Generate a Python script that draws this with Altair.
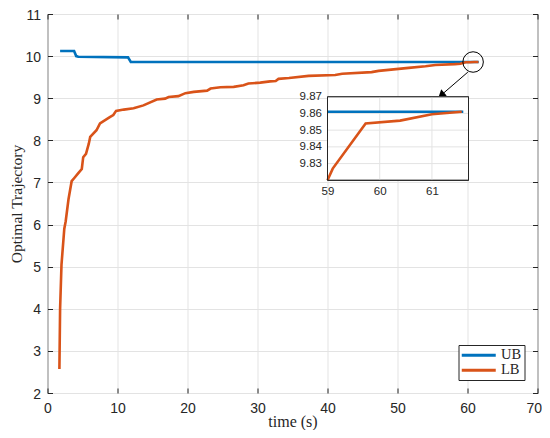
import altair as alt
import pandas as pd

# ---------------- data ----------------
ub_t = [1.8, 3.8, 4.1, 4.4, 11.5, 11.9, 61.6]
ub_v = [10.12, 10.12, 10.0, 9.985, 9.97, 9.861, 9.861]

lb_t = [1.7, 1.8, 2.0, 2.4, 2.6, 3.0, 3.45, 3.8, 4.4, 4.9, 5.1, 5.5, 5.9, 6.1,
        7.0, 7.5, 8.9, 9.4, 9.8, 10.9, 12.3, 13.7, 15.6, 16.8, 17.3, 18.7,
        19.7, 20.9, 22.8, 23.3, 24.7, 26.6, 28.0, 28.7, 30.4, 31.8, 32.6,
        33.0, 34.5, 37.3, 41.1, 42.1, 46.3, 47.3, 51.6, 54.0, 55.4, 58.2,
        59.0, 59.1, 59.73, 60.39, 61.0, 61.57]
lb_v = [2.57, 4.0, 5.05, 5.9, 6.08, 6.6, 7.03, 7.1, 7.22, 7.32, 7.6, 7.68,
        7.92, 8.08, 8.24, 8.4, 8.55, 8.6, 8.7, 8.73, 8.76, 8.83, 8.97, 8.99,
        9.03, 9.05, 9.12, 9.15, 9.18, 9.23, 9.26, 9.27, 9.31, 9.35, 9.37,
        9.4, 9.41, 9.46, 9.48, 9.53, 9.55, 9.58, 9.62, 9.65, 9.72, 9.76,
        9.79, 9.81, 9.82, 9.827, 9.854, 9.8557, 9.8595, 9.861]

inset_ub_t = [59.0, 61.6]
inset_ub_v = [9.861, 9.861]
inset_lb_t = [59.0, 59.1, 59.73, 60.39, 61.0, 61.57]
inset_lb_v = [9.820, 9.827, 9.854, 9.8557, 9.8595, 9.861]

x_ticks = [0, 10, 20, 30, 40, 50, 60, 70]
y_ticks = [2, 3, 4, 5, 6, 7, 8, 9, 10, 11]
x_domain = [0, 70]
y_domain = [2, 11]

inset_x_ticks = [59, 60, 61]
inset_y_ticks = [9.83, 9.84, 9.85, 9.86, 9.87]
inset_x_domain = [59, 61.7]
inset_y_domain = [9.82, 9.87]

series_names = ["UB", "LB"]
series_colors = ["#0072BD", "#D95319"]

# annotation: zoom circle and arrow (data coordinates)
circle_t = [60.8]
circle_v = [9.86]
arrow_t = [60.05]
arrow_v = [9.62]
arrow_t2 = [55.8]
arrow_v2 = [9.01]

# ---------------- dimensions ----------------
W, H = 490, 379
INSET_X_RANGE = [280, 421]
INSET_Y_RANGE = [166.3, 82.7]

TICK_FONT = "Liberation Sans"
TITLE_FONT = "Liberation Serif"
AX_COLOR = "#262626"
GRID_COLOR = "#e3e3e3"

ub_df = pd.DataFrame({"t": ub_t, "v": ub_v, "series": "UB"})
lb_df = pd.DataFrame({"t": lb_t, "v": lb_v, "series": "LB"})
iub_df = pd.DataFrame({"t": inset_ub_t, "v": inset_ub_v})
ilb_df = pd.DataFrame({"t": inset_lb_t, "v": inset_lb_v})

xs = alt.Scale(domain=x_domain, nice=False, zero=False)
ys = alt.Scale(domain=y_domain, nice=False, zero=False)

x_axis = alt.Axis(values=x_ticks, grid=True, gridColor=GRID_COLOR, domain=False,
                  ticks=False, tickSize=0, labelPadding=8, labelFont=TICK_FONT,
                  labelFontSize=14, labelColor=AX_COLOR, title="time (s)",
                  titleFont=TITLE_FONT, titleFontSize=16, titleFontWeight="normal",
                  titleColor=AX_COLOR, titleY=33.5, titleBaseline="alphabetic",
                  orient="bottom", labelFlush=True, labelFlushOffset=4)
y_axis = alt.Axis(values=y_ticks, grid=True, gridColor=GRID_COLOR, domain=False,
                  ticks=False, tickSize=0, labelPadding=7, labelOffset=1,
                  labelFont=TICK_FONT, labelFontSize=14, labelColor=AX_COLOR,
                  title="Optimal Trajectory", titleFont=TITLE_FONT, titleFontSize=15.5,
                  titleFontWeight="normal", titleColor=AX_COLOR, titleX=-26,
                  titleY=H / 2, titleAngle=270, titleBaseline="alphabetic",
                  orient="left", labelFlush=False)

color = alt.Color("series:N",
                  scale=alt.Scale(domain=series_names, range=series_colors),
                  legend=alt.Legend(orient="bottom-right", title=None,
                                    symbolType="M-3.4,0H3.4", symbolSize=100,
                                    symbolStrokeWidth=3, symbolOffset=10,
                                    labelOffset=15, labelFont=TITLE_FONT,
                                    labelFontSize=14.5, labelColor=AX_COLOR,
                                    strokeColor=AX_COLOR, fillColor="white",
                                    padding=3, offset=13, rowPadding=0))

ub_line = alt.Chart(ub_df).mark_line(strokeWidth=2.6).encode(
    x=alt.X("t:Q", scale=xs, axis=x_axis),
    y=alt.Y("v:Q", scale=ys, axis=y_axis),
    color=color,
)
lb_line = alt.Chart(lb_df).mark_line(strokeWidth=2.6).encode(
    x=alt.X("t:Q", scale=xs, axis=x_axis),
    y=alt.Y("v:Q", scale=ys, axis=y_axis),
    color=color,
)

circ_df = pd.DataFrame({"t": circle_t, "v": circle_v})
circle = alt.Chart(circ_df).mark_point(shape="circle", size=420, filled=False,
                                       stroke="black", strokeWidth=1, opacity=1).encode(
    x=alt.X("t:Q", scale=xs), y=alt.Y("v:Q", scale=ys))

arr_df = pd.DataFrame({"t": arrow_t, "v": arrow_v, "t2": arrow_t2, "v2": arrow_v2})
arrow = alt.Chart(arr_df).mark_rule(color="black", strokeWidth=1).encode(
    x=alt.X("t:Q", scale=xs), y=alt.Y("v:Q", scale=ys), x2="t2:Q", y2="v2:Q")
arrow_head = alt.Chart(arr_df).transform_calculate(
    ht="datum.t2 + 0.45", hv="datum.v2 + 0.07").mark_point(
    shape="triangle-up", size=70, filled=True, color="black", opacity=1,
    angle=229).encode(x=alt.X("ht:Q", scale=xs), y=alt.Y("hv:Q", scale=ys))

main_layer = alt.layer(ub_line, lb_line, circle, arrow, arrow_head)

# inward box ticks (bottom/left and top/right)
frame_df = pd.DataFrame({"x": x_domain, "y": y_domain})


def tick_axis(orient, values):
    return alt.Axis(orient=orient, offset=-5, tickSize=5, values=values, labels=False,
                    domain=False, grid=False, title=None, tickColor=AX_COLOR,
                    tickWidth=1)


ticks_bl = alt.Chart(frame_df).mark_point(opacity=0).encode(
    x=alt.X("x:Q", scale=xs, axis=tick_axis("bottom", x_ticks)),
    y=alt.Y("y:Q", scale=ys, axis=tick_axis("left", y_ticks)))
ticks_tr = alt.Chart(frame_df).mark_point(opacity=0).encode(
    x=alt.X("x:Q", scale=xs, axis=tick_axis("top", x_ticks)),
    y=alt.Y("y:Q", scale=ys, axis=tick_axis("right", y_ticks)))

# ---------------- inset ----------------
ixs = alt.Scale(domain=inset_x_domain, range=INSET_X_RANGE, nice=False, zero=False)
iys = alt.Scale(domain=inset_y_domain, range=INSET_Y_RANGE, nice=False, zero=False)

ix_axis = alt.Axis(orient="bottom", offset=-(H - INSET_Y_RANGE[0]), values=inset_x_ticks,
                   grid=False, domain=False, ticks=False, tickSize=0, labelPadding=5,
                   labelFont=TICK_FONT, labelFontSize=11.5, labelColor=AX_COLOR,
                   title=None, labelFlush=False)
iy_axis = alt.Axis(orient="left", offset=-INSET_X_RANGE[0], values=inset_y_ticks,
                   grid=False, domain=False, ticks=False, tickSize=0, labelPadding=6,
                   labelFont=TICK_FONT, labelFontSize=11.5, labelColor=AX_COLOR,
                   title=None, format=".2f", labelFlush=False)

box_df = pd.DataFrame({"x0": [inset_x_domain[0]], "x1": [inset_x_domain[1]],
                       "y0": [inset_y_domain[0]], "y1": [inset_y_domain[1]]})
inset_box = alt.Chart(box_df).mark_rect(fill="white", stroke=AX_COLOR, strokeWidth=1).encode(
    x=alt.X("x0:Q", scale=ixs, axis=ix_axis), x2="x1:Q",
    y=alt.Y("y0:Q", scale=iys, axis=iy_axis), y2="y1:Q")

vgrid_df = pd.DataFrame({"t": inset_x_ticks, "y0": inset_y_domain[0], "y1": inset_y_domain[1]})
hgrid_df = pd.DataFrame({"v": inset_y_ticks, "x0": inset_x_domain[0], "x1": inset_x_domain[1]})
inset_vgrid = alt.Chart(vgrid_df).mark_rule(color=GRID_COLOR, strokeWidth=1).encode(
    x=alt.X("t:Q", scale=ixs, axis=ix_axis),
    y=alt.Y("y0:Q", scale=iys, axis=iy_axis), y2="y1:Q")
inset_hgrid = alt.Chart(hgrid_df).mark_rule(color=GRID_COLOR, strokeWidth=1).encode(
    y=alt.Y("v:Q", scale=iys, axis=iy_axis),
    x=alt.X("x0:Q", scale=ixs, axis=ix_axis), x2="x1:Q")
inset_border = alt.Chart(box_df).mark_rect(fill=None, fillOpacity=0, stroke=AX_COLOR,
                                           strokeWidth=1).encode(
    x=alt.X("x0:Q", scale=ixs, axis=ix_axis), x2="x1:Q",
    y=alt.Y("y0:Q", scale=iys, axis=iy_axis), y2="y1:Q")
inset_ub = alt.Chart(iub_df).mark_line(strokeWidth=2.6, color=series_colors[0]).encode(
    x=alt.X("t:Q", scale=ixs, axis=ix_axis), y=alt.Y("v:Q", scale=iys, axis=iy_axis))
inset_lb = alt.Chart(ilb_df).mark_line(strokeWidth=2.6, color=series_colors[1]).encode(
    x=alt.X("t:Q", scale=ixs, axis=ix_axis), y=alt.Y("v:Q", scale=iys, axis=iy_axis))

inset_layer = alt.layer(inset_box, inset_vgrid, inset_hgrid, inset_ub, inset_lb, inset_border)

chart = alt.layer(main_layer, ticks_bl, ticks_tr, inset_layer).resolve_scale(
    x="independent", y="independent"
).properties(
    width=W, height=H,
    autosize=alt.AutoSizeParams(type="none"),
    padding={"left": 39.5, "top": 6, "right": 4.5, "bottom": 37},
    background="white",
).configure_view(stroke="#3a3a3a", strokeWidth=1)

chart.save("out.html", embed_options={"renderer": "svg", "actions": False})
